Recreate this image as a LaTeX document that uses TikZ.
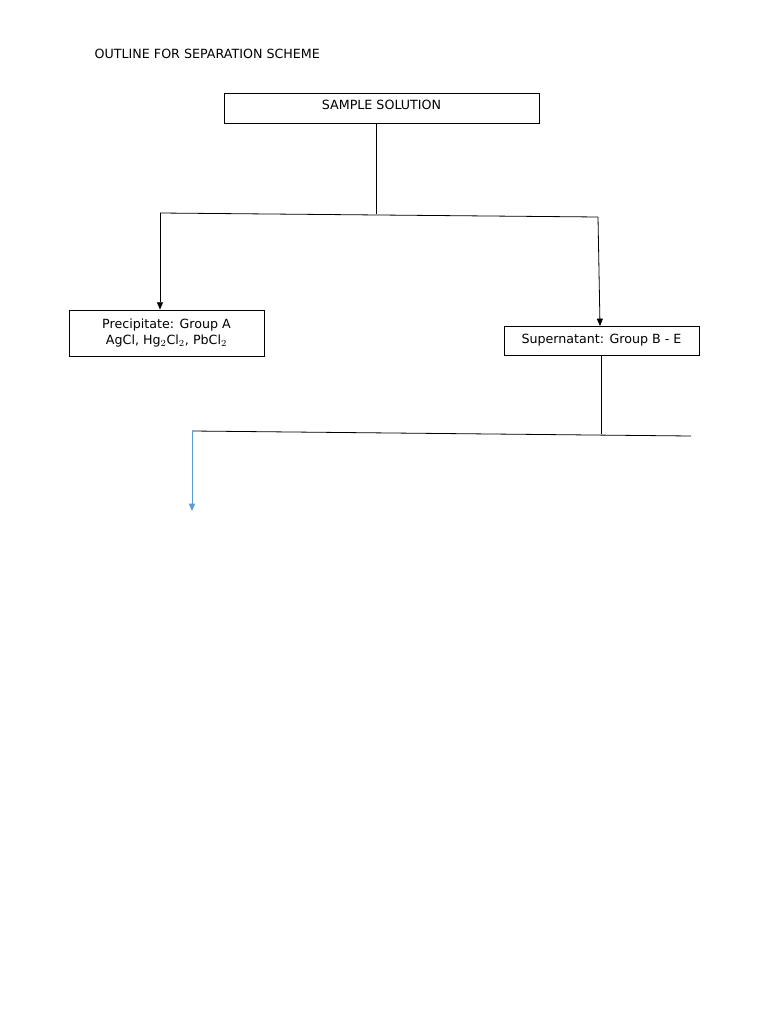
\documentclass[tikz,border=0pt]{standalone}
\usepackage{fontspec}
\setmainfont{DejaVu Sans}
\usetikzlibrary{arrows.meta}
\begin{document}
\begin{tikzpicture}[x=0.75pt,y=-0.75pt,
  box/.style={draw,line width=0.6pt,inner sep=0pt,font=\fontsize{9.5pt}{12pt}\selectfont,align=center},
  ln/.style={line width=0.6pt},
  arr/.style={ln,-{Triangle[width=4.5pt,length=5.5pt]}}]
\useasboundingbox[fill=white] (0,0) rectangle (768,1024);
\node[anchor=west,font=\fontsize{9.5pt}{12pt}\selectfont] (title) at (90,54) {OUTLINE FOR SEPARATION SCHEME};
\node[box,minimum width=315*0.75pt,minimum height=30*0.75pt] (sample) at (381.5,108) {};
\node at (381.5,105) {\fontsize{9.5pt}{12pt}\selectfont SAMPLE SOLUTION};
\node[box,minimum width=195*0.75pt,minimum height=46*0.75pt] (prec) at (166.5,333) {Precipitate: Group A\\AgCl, Hg$_2$Cl$_2$, PbCl$_2$};
\node[box,minimum width=195*0.75pt,minimum height=29*0.75pt] (super) at (601.5,340.5) {Supernatant: Group B - E};
\coordinate (j1) at (376,214);
\coordinate (l1) at (160,213);
\coordinate (r1) at (598,217);
\coordinate (j2) at (601,434);
\coordinate (l2) at (192,431);
\coordinate (r2) at (691,436);
\coordinate (b2) at (192,511);
\draw[ln] (sample.south -| j1) -- (j1);
\draw[ln] (l1) -- (r1);
\draw[arr] (l1) -- (prec.north -| l1);
\draw[arr] (r1) -- (600,326);
\draw[ln] (super.south -| j2) -- (j2);
\draw[ln] (l2) -- (r2);
\draw[arr,color={rgb,255:red,91;green,155;blue,213}] (l2) -- (b2);
\end{tikzpicture}
\end{document}
